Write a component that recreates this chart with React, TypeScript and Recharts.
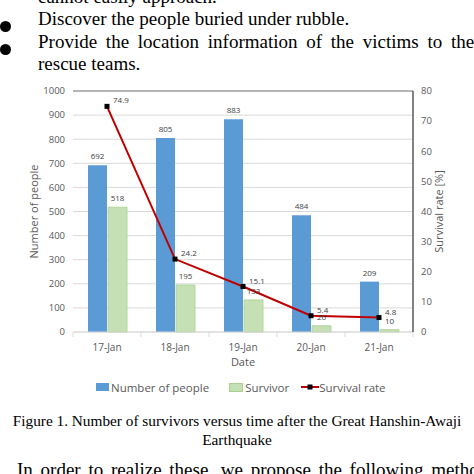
import { ComposedChart, Bar, Line, XAxis, YAxis, CartesianGrid, LabelList, ReferenceLine } from 'recharts';

const dates = ['17-Jan', '18-Jan', '19-Jan', '20-Jan', '21-Jan'];
const numberOfPeople = [692, 805, 883, 484, 209];
const survivors = [518, 195, 133, 26, 10];
const survivalRate = [74.9, 24.2, 15.1, 5.4, 4.8];
const leftTicks = [0, 100, 200, 300, 400, 500, 600, 700, 800, 900, 1000];
const rightTicks = [0, 10, 20, 30, 40, 50, 60, 70, 80];

const chartData = dates.map((d, i) => ({
  date: d,
  people: numberOfPeople[i],
  survivor: survivors[i],
  rate: survivalRate[i],
}));

const chartFont = '"Open Sans", "Noto Sans", sans-serif';
const serif = '"Liberation Serif", "Times New Roman", serif';

const DateTick = (props: any) => {
  const { x, y, payload, index } = props;
  const half = payload.offset || 34;
  return (
    <g>
      <line x1={x - half} y1={y} x2={x - half} y2={y + 5} stroke="#d9d9d9" />
      {index === dates.length - 1 && <line x1={x + half} y1={y} x2={x + half} y2={y + 5} stroke="#d9d9d9" />}
      <text x={x} y={y + 15} textAnchor="middle" dominantBaseline="central" fontSize={10} fill="#595959" fontFamily={chartFont}>
        {payload.value}
      </text>
    </g>
  );
};

const RateLabel = (props: any) => {
  const { x, y, value } = props;
  return (
    <text x={x + 6} y={y - 3} fontSize={8} fill="#404040" fontFamily={chartFont}>
      {value}
    </text>
  );
};

function Bullet({ top }: { top: number }) {
  return <div style={{ position: 'absolute', left: 0, top, width: 11, height: 11, borderRadius: '50%', background: '#000' }} />;
}

export default function App() {
  return (
    <div style={{ position: 'absolute', left: 0, top: 0, width: 474, height: 474, overflow: 'hidden', background: '#fff', fontFamily: serif, color: '#000' }}>
      {/* text above the figure */}
      <div style={{ position: 'absolute', left: 38, top: -14, fontSize: 19, lineHeight: '22.5px', whiteSpace: 'nowrap' }}>
        cannot easily approach.
      </div>
      <Bullet top={21} />
      <div style={{ position: 'absolute', left: 38, top: 8, fontSize: 19, lineHeight: '22.5px', whiteSpace: 'nowrap' }}>
        Discover the people buried under rubble.
      </div>
      <Bullet top={44} />
      <div style={{ position: 'absolute', left: 38, top: 31, width: 436, fontSize: 19, lineHeight: '22.5px', textAlign: 'justify', textAlignLast: 'justify', whiteSpace: 'nowrap', wordSpacing: 4 }}>
        Provide the location information of the victims to the
      </div>
      <div style={{ position: 'absolute', left: 38, top: 53, fontSize: 19, lineHeight: '22.5px', whiteSpace: 'nowrap' }}>
        rescue teams.
      </div>

      {/* chart */}
      <div style={{ position: 'absolute', left: 0, top: 80 }}>
        <ComposedChart width={474} height={320} data={chartData} margin={{ top: 11, right: 0, left: 0, bottom: 0 }} barGap={1} barCategoryGap="21%">
          <CartesianGrid vertical={false} stroke="#d9d9d9" yAxisId="left" />
          <XAxis
            dataKey="date"
            height={68}
            tickLine={false}
            tickSize={0}
            tickMargin={0}
            axisLine={{ stroke: '#d9d9d9' }}
            tick={<DateTick />}
            label={{ value: 'Date', position: 'insideBottom', offset: 34, fontSize: 11, fill: '#595959', fontFamily: chartFont }}
          />
          <YAxis
            yAxisId="left"
            width={73}
            domain={[0, 1000]}
            ticks={leftTicks}
            axisLine={false}
            tickLine={false}
            tick={{ fontSize: 9.5, fill: '#595959', fontFamily: chartFont }}
            label={{ value: 'Number of people', angle: -90, position: 'center', fontSize: 11, fill: '#595959', fontFamily: chartFont, dx: -2 }}
          />
          <YAxis
            yAxisId="right"
            orientation="right"
            width={61}
            domain={[0, 80]}
            ticks={rightTicks}
            axisLine={{ stroke: '#595959', strokeWidth: 1.5 }}
            tickLine={false}
            tick={{ fontSize: 9.5, fill: '#595959', fontFamily: chartFont }}
            label={{ value: 'Survival rate [%]', angle: -90, position: 'center', fontSize: 11, fill: '#595959', fontFamily: chartFont, dx: -4 }}
          />
          <ReferenceLine yAxisId="left" y={1000} stroke="#7f7f7f" strokeWidth={1.2} />
          <Bar yAxisId="left" dataKey="people" fill="#5b9bd5" barSize={19} isAnimationActive={false}>
            <LabelList dataKey="people" position="top" offset={6} fontSize={8} fill="#404040" fontFamily={chartFont} />
          </Bar>
          <Bar yAxisId="left" dataKey="survivor" fill="#c5e0b4" stroke="#a9d18e" strokeWidth={0.8} barSize={19} isAnimationActive={false}>
            <LabelList dataKey="survivor" position="top" offset={6} fontSize={8} fill="#404040" fontFamily={chartFont} />
          </Bar>
          <Line
            yAxisId="right"
            dataKey="rate"
            stroke="#c00000"
            strokeWidth={2}
            isAnimationActive={false}
            dot={(p: any) => <rect key={p.index} x={p.cx - 2.5} y={p.cy - 2.5} width={5} height={5} fill="#000" />}
            activeDot={false}
          >
            <LabelList dataKey="rate" content={<RateLabel />} />
          </Line>
        </ComposedChart>
      </div>

      {/* legend */}
      <div style={{ position: 'absolute', left: 96, top: 380, height: 14, display: 'flex', alignItems: 'center', fontFamily: chartFont, fontSize: 11.5, color: '#595959', whiteSpace: 'nowrap' }}>
        <span style={{ width: 13, height: 8, background: '#5b9bd5', display: 'inline-block', marginRight: 2 }} />
        <span>Number of people</span>
        <span style={{ width: 12, height: 7, background: '#c5e0b4', border: '1px solid #a9d18e', display: 'inline-block', marginLeft: 20, marginRight: 2 }} />
        <span>Survivor</span>
        <svg width={18} height={10} style={{ marginLeft: 12 }}>
          <line x1={0} y1={5} x2={18} y2={5} stroke="#c00000" strokeWidth={2} />
          <rect x={6.5} y={2.5} width={5} height={5} fill="#000" />
        </svg>
        <span>Survival rate</span>
      </div>

      {/* caption */}
      <div style={{ position: 'absolute', left: 0, top: 411, width: 474, textAlign: 'center', fontSize: 15.3, lineHeight: '19px' }}>
        Figure 1. Number of survivors versus time after the Great Hanshin-Awaji
        <br />
        Earthquake
      </div>

      {/* text below */}
      <div style={{ position: 'absolute', left: 17, top: 459, fontSize: 19, lineHeight: '22.5px', whiteSpace: 'nowrap', wordSpacing: 3 }}>
        In order to realize these, we propose the following method
      </div>
    </div>
  );
}
